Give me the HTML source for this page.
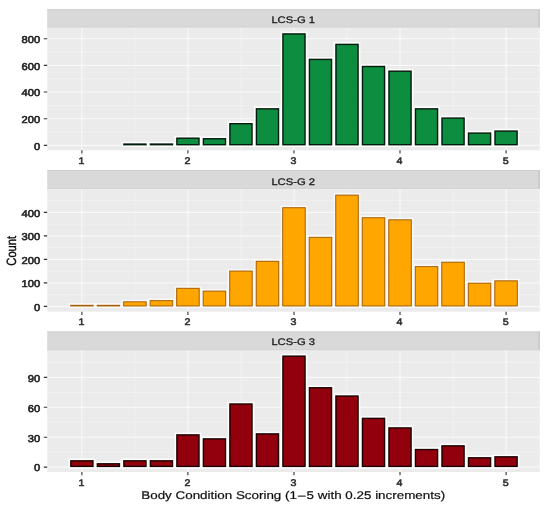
<!DOCTYPE html>
<html><head><meta charset="utf-8"><title>Body Condition Scoring</title>
<style>
html,body{margin:0;padding:0;background:#fff}
svg{display:block}
text{font-family:"Liberation Sans",sans-serif;text-rendering:geometricPrecision}
.t{font-size:9.5px;fill:#2e2e2e;stroke:#2e2e2e;stroke-width:0.55}
.ty{font-size:9.9px;fill:#262626;stroke:#262626;stroke-width:0.6}
.s{font-size:9.5px;fill:#1a1a1a;stroke:#1a1a1a;stroke-width:0.3}
.a{font-size:11.2px;fill:#111;stroke:#111;stroke-width:0.2}
.c{font-size:13.4px;fill:#111;stroke:#111;stroke-width:0.4}
</style></head><body>
<svg width="550" height="509" viewBox="0 0 550 509">
<defs><filter id="soft" x="0" y="0" width="550" height="509" filterUnits="userSpaceOnUse"><feGaussianBlur stdDeviation="0.55"/></filter></defs>
<rect width="550" height="509" fill="#fff"/>
<g filter="url(#soft)">
<rect width="550" height="509" fill="#fff"/>
<rect x="47.2" y="9.3" width="492.5" height="18.4" fill="#D9D9D9"/>
<rect x="538.5" y="9.3" width="1.2" height="18.4" fill="#c2c2c2"/>
<rect x="47.2" y="9.3" width="492.5" height="0.9" fill="#cecece"/>
<rect x="47.2" y="26.7" width="492.5" height="1.0" fill="#d2d2d2"/>
<rect x="47.2" y="27.7" width="492.5" height="122.6" fill="#EBEBEB"/>
<path d="M47.2 132.1H539.7 M47.2 105.4H539.7 M47.2 78.7H539.7 M47.2 52.0H539.7 M134.9 27.7V150.3 M241.0 27.7V150.3 M347.0 27.7V150.3 M453.0 27.7V150.3" stroke="#fff" stroke-width="0.5" opacity="0.6" fill="none"/>
<path d="M47.2 145.4H539.7 M47.2 118.7H539.7 M47.2 92.0H539.7 M47.2 65.4H539.7 M47.2 38.7H539.7 M81.9 27.7V150.3 M187.9 27.7V150.3 M294.0 27.7V150.3 M400.0 27.7V150.3 M506.1 27.7V150.3" stroke="#fff" stroke-width="0.9" opacity="0.85" fill="none"/>
<rect x="122.37" y="142.59" width="25.10" height="3.61" fill="none" stroke="#fff" stroke-opacity="0.95" stroke-width="1.6"/>
<rect x="123.87" y="144.09" width="22.10" height="0.61" fill="#098D40" stroke="#061a0c" stroke-width="1.4"/>
<rect x="148.88" y="142.59" width="25.10" height="3.61" fill="none" stroke="#fff" stroke-opacity="0.95" stroke-width="1.6"/>
<rect x="150.38" y="144.09" width="22.10" height="0.61" fill="#098D40" stroke="#061a0c" stroke-width="1.4"/>
<rect x="175.39" y="136.69" width="25.10" height="9.51" fill="none" stroke="#fff" stroke-opacity="0.95" stroke-width="1.6"/>
<rect x="176.89" y="138.19" width="22.10" height="6.51" fill="#098D40" stroke="#061a0c" stroke-width="1.4"/>
<rect x="201.90" y="137.24" width="25.10" height="8.96" fill="none" stroke="#fff" stroke-opacity="0.95" stroke-width="1.6"/>
<rect x="203.40" y="138.74" width="22.10" height="5.96" fill="#098D40" stroke="#061a0c" stroke-width="1.4"/>
<rect x="228.41" y="122.22" width="25.10" height="23.98" fill="none" stroke="#fff" stroke-opacity="0.95" stroke-width="1.6"/>
<rect x="229.91" y="123.72" width="22.10" height="20.98" fill="#098D40" stroke="#061a0c" stroke-width="1.4"/>
<rect x="254.92" y="107.34" width="25.10" height="38.86" fill="none" stroke="#fff" stroke-opacity="0.95" stroke-width="1.6"/>
<rect x="256.42" y="108.84" width="22.10" height="35.86" fill="#098D40" stroke="#061a0c" stroke-width="1.4"/>
<rect x="281.43" y="32.44" width="25.10" height="113.76" fill="none" stroke="#fff" stroke-opacity="0.95" stroke-width="1.6"/>
<rect x="282.93" y="33.94" width="22.10" height="110.76" fill="#098D40" stroke="#061a0c" stroke-width="1.4"/>
<rect x="307.94" y="57.90" width="25.10" height="88.30" fill="none" stroke="#fff" stroke-opacity="0.95" stroke-width="1.6"/>
<rect x="309.44" y="59.40" width="22.10" height="85.30" fill="#098D40" stroke="#061a0c" stroke-width="1.4"/>
<rect x="334.45" y="42.90" width="25.10" height="103.30" fill="none" stroke="#fff" stroke-opacity="0.95" stroke-width="1.6"/>
<rect x="335.95" y="44.40" width="22.10" height="100.30" fill="#098D40" stroke="#061a0c" stroke-width="1.4"/>
<rect x="360.96" y="65.00" width="25.10" height="81.20" fill="none" stroke="#fff" stroke-opacity="0.95" stroke-width="1.6"/>
<rect x="362.46" y="66.50" width="22.10" height="78.20" fill="#098D40" stroke="#061a0c" stroke-width="1.4"/>
<rect x="387.47" y="69.70" width="25.10" height="76.50" fill="none" stroke="#fff" stroke-opacity="0.95" stroke-width="1.6"/>
<rect x="388.97" y="71.20" width="22.10" height="73.50" fill="#098D40" stroke="#061a0c" stroke-width="1.4"/>
<rect x="413.98" y="107.34" width="25.10" height="38.86" fill="none" stroke="#fff" stroke-opacity="0.95" stroke-width="1.6"/>
<rect x="415.48" y="108.84" width="22.10" height="35.86" fill="#098D40" stroke="#061a0c" stroke-width="1.4"/>
<rect x="440.49" y="116.60" width="25.10" height="29.60" fill="none" stroke="#fff" stroke-opacity="0.95" stroke-width="1.6"/>
<rect x="441.99" y="118.10" width="22.10" height="26.60" fill="#098D40" stroke="#061a0c" stroke-width="1.4"/>
<rect x="467.00" y="131.61" width="25.10" height="14.59" fill="none" stroke="#fff" stroke-opacity="0.95" stroke-width="1.6"/>
<rect x="468.50" y="133.11" width="22.10" height="11.59" fill="#098D40" stroke="#061a0c" stroke-width="1.4"/>
<rect x="493.51" y="129.59" width="25.10" height="16.61" fill="none" stroke="#fff" stroke-opacity="0.95" stroke-width="1.6"/>
<rect x="495.01" y="131.09" width="22.10" height="13.61" fill="#098D40" stroke="#061a0c" stroke-width="1.4"/>
<path d="M43.800000000000004 145.4H47.2 M43.800000000000004 118.7H47.2 M43.800000000000004 92.0H47.2 M43.800000000000004 65.4H47.2 M43.800000000000004 38.7H47.2 M81.9 150.3v3.2 M187.9 150.3v3.2 M294.0 150.3v3.2 M400.0 150.3v3.2 M506.1 150.3v3.2" stroke="#333" stroke-width="1.1" fill="none"/>
<text class="ty" transform="translate(40.2 149.7) scale(1.13 1)" text-anchor="end">0</text>
<text class="ty" transform="translate(40.2 123.0) scale(1.13 1)" text-anchor="end">200</text>
<text class="ty" transform="translate(40.2 96.3) scale(1.13 1)" text-anchor="end">400</text>
<text class="ty" transform="translate(40.2 69.6) scale(1.13 1)" text-anchor="end">600</text>
<text class="ty" transform="translate(40.2 42.9) scale(1.13 1)" text-anchor="end">800</text>
<text class="t" transform="translate(81.4 163.7) scale(1.12 1)" text-anchor="middle">1</text>
<text class="t" transform="translate(187.4 163.7) scale(1.12 1)" text-anchor="middle">2</text>
<text class="t" transform="translate(293.5 163.7) scale(1.12 1)" text-anchor="middle">3</text>
<text class="t" transform="translate(399.5 163.7) scale(1.12 1)" text-anchor="middle">4</text>
<text class="t" transform="translate(505.6 163.7) scale(1.12 1)" text-anchor="middle">5</text>
<text class="s" transform="translate(293.2 23.1) scale(1.18 1)" text-anchor="middle">LCS-G 1</text>
<rect x="47.2" y="170.1" width="492.5" height="19.0" fill="#D9D9D9"/>
<rect x="538.5" y="170.1" width="1.2" height="19.0" fill="#c2c2c2"/>
<rect x="47.2" y="170.1" width="492.5" height="0.9" fill="#cecece"/>
<rect x="47.2" y="188.1" width="492.5" height="1.0" fill="#d2d2d2"/>
<rect x="47.2" y="189.1" width="492.5" height="122.6" fill="#EBEBEB"/>
<path d="M47.2 294.7H539.7 M47.2 271.2H539.7 M47.2 247.6H539.7 M47.2 224.1H539.7 M47.2 200.6H539.7 M134.9 189.1V311.7 M241.0 189.1V311.7 M347.0 189.1V311.7 M453.0 189.1V311.7" stroke="#fff" stroke-width="0.5" opacity="0.6" fill="none"/>
<path d="M47.2 306.4H539.7 M47.2 282.9H539.7 M47.2 259.4H539.7 M47.2 235.9H539.7 M47.2 212.4H539.7 M81.9 189.1V311.7 M187.9 189.1V311.7 M294.0 189.1V311.7 M400.0 189.1V311.7 M506.1 189.1V311.7" stroke="#fff" stroke-width="0.9" opacity="0.85" fill="none"/>
<rect x="69.35" y="304.03" width="25.10" height="3.22" fill="none" stroke="#fff" stroke-opacity="0.7" stroke-width="1.6"/>
<rect x="70.65" y="305.33" width="22.50" height="0.62" fill="#FFA602" stroke="#A85E00" stroke-width="1.0"/>
<rect x="95.86" y="304.03" width="25.10" height="3.22" fill="none" stroke="#fff" stroke-opacity="0.7" stroke-width="1.6"/>
<rect x="97.16" y="305.33" width="22.50" height="0.62" fill="#FFA602" stroke="#A85E00" stroke-width="1.0"/>
<rect x="122.37" y="300.55" width="25.10" height="6.70" fill="none" stroke="#fff" stroke-opacity="0.7" stroke-width="1.6"/>
<rect x="123.67" y="301.85" width="22.50" height="4.10" fill="#FFA602" stroke="#A85E00" stroke-width="1.0"/>
<rect x="148.88" y="299.37" width="25.10" height="7.88" fill="none" stroke="#fff" stroke-opacity="0.7" stroke-width="1.6"/>
<rect x="150.18" y="300.67" width="22.50" height="5.28" fill="#FFA602" stroke="#A85E00" stroke-width="1.0"/>
<rect x="175.39" y="287.02" width="25.10" height="20.23" fill="none" stroke="#fff" stroke-opacity="0.7" stroke-width="1.6"/>
<rect x="176.69" y="288.32" width="22.50" height="17.63" fill="#FFA602" stroke="#A85E00" stroke-width="1.0"/>
<rect x="201.90" y="289.82" width="25.10" height="17.43" fill="none" stroke="#fff" stroke-opacity="0.7" stroke-width="1.6"/>
<rect x="203.20" y="291.12" width="22.50" height="14.83" fill="#FFA602" stroke="#A85E00" stroke-width="1.0"/>
<rect x="228.41" y="269.78" width="25.10" height="37.47" fill="none" stroke="#fff" stroke-opacity="0.7" stroke-width="1.6"/>
<rect x="229.71" y="271.08" width="22.50" height="34.87" fill="#FFA602" stroke="#A85E00" stroke-width="1.0"/>
<rect x="254.92" y="260.00" width="25.10" height="47.25" fill="none" stroke="#fff" stroke-opacity="0.7" stroke-width="1.6"/>
<rect x="256.22" y="261.30" width="22.50" height="44.65" fill="#FFA602" stroke="#A85E00" stroke-width="1.0"/>
<rect x="281.43" y="206.42" width="25.10" height="100.83" fill="none" stroke="#fff" stroke-opacity="0.7" stroke-width="1.6"/>
<rect x="282.73" y="207.72" width="22.50" height="98.23" fill="#FFA602" stroke="#A85E00" stroke-width="1.0"/>
<rect x="307.94" y="236.01" width="25.10" height="71.24" fill="none" stroke="#fff" stroke-opacity="0.7" stroke-width="1.6"/>
<rect x="309.24" y="237.31" width="22.50" height="68.64" fill="#FFA602" stroke="#A85E00" stroke-width="1.0"/>
<rect x="334.45" y="193.84" width="25.10" height="113.41" fill="none" stroke="#fff" stroke-opacity="0.7" stroke-width="1.6"/>
<rect x="335.75" y="195.14" width="22.50" height="110.81" fill="#FFA602" stroke="#A85E00" stroke-width="1.0"/>
<rect x="360.96" y="216.44" width="25.10" height="90.81" fill="none" stroke="#fff" stroke-opacity="0.7" stroke-width="1.6"/>
<rect x="362.26" y="217.74" width="22.50" height="88.21" fill="#FFA602" stroke="#A85E00" stroke-width="1.0"/>
<rect x="387.47" y="218.53" width="25.10" height="88.72" fill="none" stroke="#fff" stroke-opacity="0.7" stroke-width="1.6"/>
<rect x="388.77" y="219.83" width="22.50" height="86.12" fill="#FFA602" stroke="#A85E00" stroke-width="1.0"/>
<rect x="413.98" y="265.36" width="25.10" height="41.89" fill="none" stroke="#fff" stroke-opacity="0.7" stroke-width="1.6"/>
<rect x="415.28" y="266.66" width="22.50" height="39.29" fill="#FFA602" stroke="#A85E00" stroke-width="1.0"/>
<rect x="440.49" y="260.94" width="25.10" height="46.31" fill="none" stroke="#fff" stroke-opacity="0.7" stroke-width="1.6"/>
<rect x="441.79" y="262.24" width="22.50" height="43.71" fill="#FFA602" stroke="#A85E00" stroke-width="1.0"/>
<rect x="467.00" y="281.89" width="25.10" height="25.36" fill="none" stroke="#fff" stroke-opacity="0.7" stroke-width="1.6"/>
<rect x="468.30" y="283.19" width="22.50" height="22.76" fill="#FFA602" stroke="#A85E00" stroke-width="1.0"/>
<rect x="493.51" y="279.57" width="25.10" height="27.68" fill="none" stroke="#fff" stroke-opacity="0.7" stroke-width="1.6"/>
<rect x="494.81" y="280.87" width="22.50" height="25.08" fill="#FFA602" stroke="#A85E00" stroke-width="1.0"/>
<path d="M43.800000000000004 306.4H47.2 M43.800000000000004 282.9H47.2 M43.800000000000004 259.4H47.2 M43.800000000000004 235.9H47.2 M43.800000000000004 212.4H47.2 M81.9 311.7v3.2 M187.9 311.7v3.2 M294.0 311.7v3.2 M400.0 311.7v3.2 M506.1 311.7v3.2" stroke="#333" stroke-width="1.1" fill="none"/>
<text class="ty" transform="translate(40.2 310.7) scale(1.13 1)" text-anchor="end">0</text>
<text class="ty" transform="translate(40.2 287.2) scale(1.13 1)" text-anchor="end">100</text>
<text class="ty" transform="translate(40.2 263.7) scale(1.13 1)" text-anchor="end">200</text>
<text class="ty" transform="translate(40.2 240.1) scale(1.13 1)" text-anchor="end">300</text>
<text class="ty" transform="translate(40.2 216.6) scale(1.13 1)" text-anchor="end">400</text>
<text class="t" transform="translate(81.4 324.7) scale(1.12 1)" text-anchor="middle">1</text>
<text class="t" transform="translate(187.4 324.7) scale(1.12 1)" text-anchor="middle">2</text>
<text class="t" transform="translate(293.5 324.7) scale(1.12 1)" text-anchor="middle">3</text>
<text class="t" transform="translate(399.5 324.7) scale(1.12 1)" text-anchor="middle">4</text>
<text class="t" transform="translate(505.6 324.7) scale(1.12 1)" text-anchor="middle">5</text>
<text class="s" transform="translate(293.2 184.6) scale(1.18 1)" text-anchor="middle">LCS-G 2</text>
<rect x="47.2" y="331.5" width="492.5" height="19.0" fill="#D9D9D9"/>
<rect x="538.5" y="331.5" width="1.2" height="19.0" fill="#c2c2c2"/>
<rect x="47.2" y="331.5" width="492.5" height="0.9" fill="#cecece"/>
<rect x="47.2" y="349.5" width="492.5" height="1.0" fill="#d2d2d2"/>
<rect x="47.2" y="350.5" width="492.5" height="121.6" fill="#EBEBEB"/>
<path d="M47.2 452.2H539.7 M47.2 422.2H539.7 M47.2 392.4H539.7 M47.2 362.5H539.7 M134.9 350.5V472.1 M241.0 350.5V472.1 M347.0 350.5V472.1 M453.0 350.5V472.1" stroke="#fff" stroke-width="0.5" opacity="0.6" fill="none"/>
<path d="M47.2 467.1H539.7 M47.2 437.2H539.7 M47.2 407.3H539.7 M47.2 377.4H539.7 M81.9 350.5V472.1 M187.9 350.5V472.1 M294.0 350.5V472.1 M400.0 350.5V472.1 M506.1 350.5V472.1" stroke="#fff" stroke-width="0.9" opacity="0.85" fill="none"/>
<rect x="69.35" y="459.32" width="25.10" height="8.58" fill="none" stroke="#fff" stroke-opacity="0.95" stroke-width="1.6"/>
<rect x="70.85" y="460.82" width="22.10" height="5.58" fill="#92040A" stroke="#1a0000" stroke-width="1.4"/>
<rect x="95.86" y="462.31" width="25.10" height="5.59" fill="none" stroke="#fff" stroke-opacity="0.95" stroke-width="1.6"/>
<rect x="97.36" y="463.81" width="22.10" height="2.59" fill="#92040A" stroke="#1a0000" stroke-width="1.4"/>
<rect x="122.37" y="459.32" width="25.10" height="8.58" fill="none" stroke="#fff" stroke-opacity="0.95" stroke-width="1.6"/>
<rect x="123.87" y="460.82" width="22.10" height="5.58" fill="#92040A" stroke="#1a0000" stroke-width="1.4"/>
<rect x="148.88" y="459.32" width="25.10" height="8.58" fill="none" stroke="#fff" stroke-opacity="0.95" stroke-width="1.6"/>
<rect x="150.38" y="460.82" width="22.10" height="5.58" fill="#92040A" stroke="#1a0000" stroke-width="1.4"/>
<rect x="175.39" y="433.41" width="25.10" height="34.49" fill="none" stroke="#fff" stroke-opacity="0.95" stroke-width="1.6"/>
<rect x="176.89" y="434.91" width="22.10" height="31.49" fill="#92040A" stroke="#1a0000" stroke-width="1.4"/>
<rect x="201.90" y="437.40" width="25.10" height="30.50" fill="none" stroke="#fff" stroke-opacity="0.95" stroke-width="1.6"/>
<rect x="203.40" y="438.90" width="22.10" height="27.50" fill="#92040A" stroke="#1a0000" stroke-width="1.4"/>
<rect x="228.41" y="402.51" width="25.10" height="65.39" fill="none" stroke="#fff" stroke-opacity="0.95" stroke-width="1.6"/>
<rect x="229.91" y="404.01" width="22.10" height="62.39" fill="#92040A" stroke="#1a0000" stroke-width="1.4"/>
<rect x="254.92" y="432.41" width="25.10" height="35.49" fill="none" stroke="#fff" stroke-opacity="0.95" stroke-width="1.6"/>
<rect x="256.42" y="433.91" width="22.10" height="32.49" fill="#92040A" stroke="#1a0000" stroke-width="1.4"/>
<rect x="281.43" y="354.67" width="25.10" height="113.23" fill="none" stroke="#fff" stroke-opacity="0.95" stroke-width="1.6"/>
<rect x="282.93" y="356.17" width="22.10" height="110.23" fill="#92040A" stroke="#1a0000" stroke-width="1.4"/>
<rect x="307.94" y="386.27" width="25.10" height="81.63" fill="none" stroke="#fff" stroke-opacity="0.95" stroke-width="1.6"/>
<rect x="309.44" y="387.77" width="22.10" height="78.63" fill="#92040A" stroke="#1a0000" stroke-width="1.4"/>
<rect x="334.45" y="394.54" width="25.10" height="73.36" fill="none" stroke="#fff" stroke-opacity="0.95" stroke-width="1.6"/>
<rect x="335.95" y="396.04" width="22.10" height="70.36" fill="#92040A" stroke="#1a0000" stroke-width="1.4"/>
<rect x="360.96" y="416.87" width="25.10" height="51.03" fill="none" stroke="#fff" stroke-opacity="0.95" stroke-width="1.6"/>
<rect x="362.46" y="418.37" width="22.10" height="48.03" fill="#92040A" stroke="#1a0000" stroke-width="1.4"/>
<rect x="387.47" y="426.43" width="25.10" height="41.47" fill="none" stroke="#fff" stroke-opacity="0.95" stroke-width="1.6"/>
<rect x="388.97" y="427.93" width="22.10" height="38.47" fill="#92040A" stroke="#1a0000" stroke-width="1.4"/>
<rect x="413.98" y="448.06" width="25.10" height="19.84" fill="none" stroke="#fff" stroke-opacity="0.95" stroke-width="1.6"/>
<rect x="415.48" y="449.56" width="22.10" height="16.84" fill="#92040A" stroke="#1a0000" stroke-width="1.4"/>
<rect x="440.49" y="444.37" width="25.10" height="23.53" fill="none" stroke="#fff" stroke-opacity="0.95" stroke-width="1.6"/>
<rect x="441.99" y="445.87" width="22.10" height="20.53" fill="#92040A" stroke="#1a0000" stroke-width="1.4"/>
<rect x="467.00" y="456.33" width="25.10" height="11.57" fill="none" stroke="#fff" stroke-opacity="0.95" stroke-width="1.6"/>
<rect x="468.50" y="457.83" width="22.10" height="8.57" fill="#92040A" stroke="#1a0000" stroke-width="1.4"/>
<rect x="493.51" y="455.34" width="25.10" height="12.56" fill="none" stroke="#fff" stroke-opacity="0.95" stroke-width="1.6"/>
<rect x="495.01" y="456.84" width="22.10" height="9.56" fill="#92040A" stroke="#1a0000" stroke-width="1.4"/>
<path d="M43.800000000000004 467.1H47.2 M43.800000000000004 437.2H47.2 M43.800000000000004 407.3H47.2 M43.800000000000004 377.4H47.2 M81.9 472.1v3.2 M187.9 472.1v3.2 M294.0 472.1v3.2 M400.0 472.1v3.2 M506.1 472.1v3.2" stroke="#333" stroke-width="1.1" fill="none"/>
<text class="ty" transform="translate(40.2 471.4) scale(1.13 1)" text-anchor="end">0</text>
<text class="ty" transform="translate(40.2 441.5) scale(1.13 1)" text-anchor="end">30</text>
<text class="ty" transform="translate(40.2 411.6) scale(1.13 1)" text-anchor="end">60</text>
<text class="ty" transform="translate(40.2 381.7) scale(1.13 1)" text-anchor="end">90</text>
<text class="t" transform="translate(81.4 485.7) scale(1.12 1)" text-anchor="middle">1</text>
<text class="t" transform="translate(187.4 485.7) scale(1.12 1)" text-anchor="middle">2</text>
<text class="t" transform="translate(293.5 485.7) scale(1.12 1)" text-anchor="middle">3</text>
<text class="t" transform="translate(399.5 485.7) scale(1.12 1)" text-anchor="middle">4</text>
<text class="t" transform="translate(505.6 485.7) scale(1.12 1)" text-anchor="middle">5</text>
<text class="s" transform="translate(293.2 344.9) scale(1.18 1)" text-anchor="middle">LCS-G 3</text>
<text class="a" transform="translate(293.2 499.2) scale(1.198 1)" text-anchor="middle">Body Condition Scoring (1<tspan dx="0.9">–</tspan><tspan dx="0.9">5 with 0.25 increments)</tspan></text>
<text class="c" transform="translate(15.9 250.8) rotate(-90) scale(0.833 1)" text-anchor="middle">Count</text>
</g>
</svg>
</body></html>
